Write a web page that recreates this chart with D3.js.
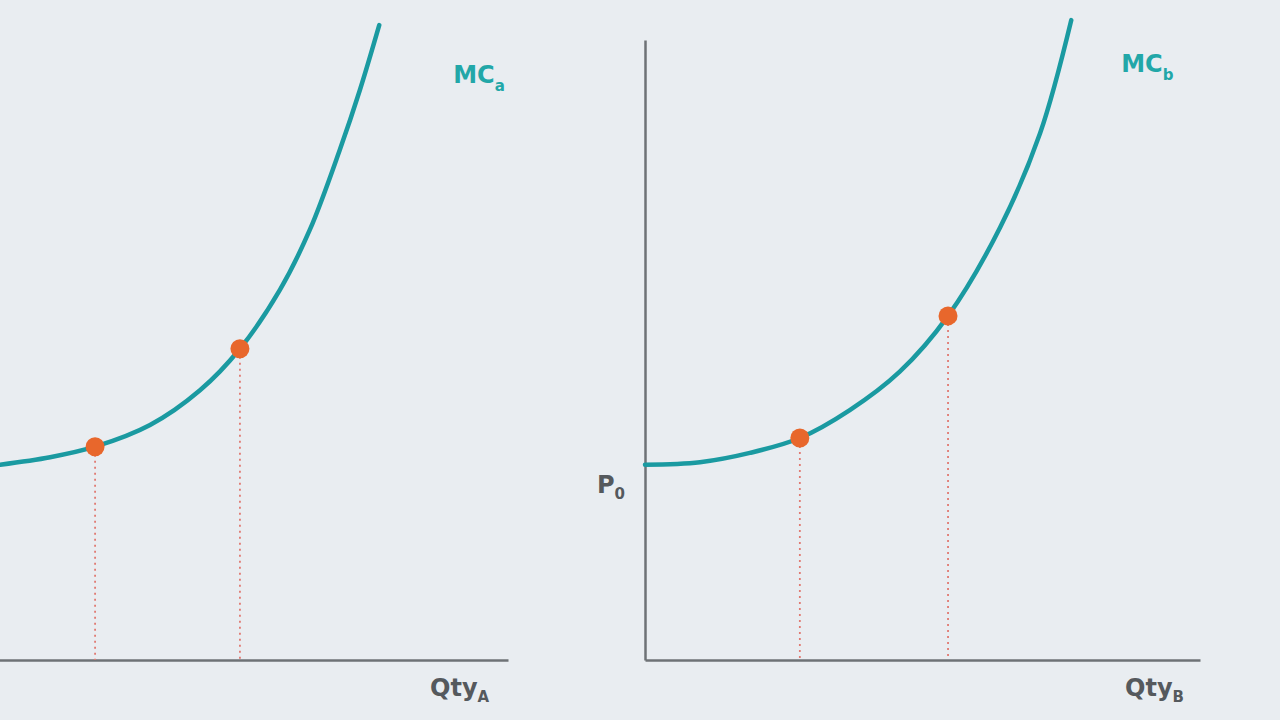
<!DOCTYPE html>
<html>
<head>
<meta charset="utf-8">
<script src="https://cdn.jsdelivr.net/npm/d3@7"></script>
<style>
  html, body { margin: 0; padding: 0; background: #e9edf1; }
  svg { display: block; }
  .axis path { stroke: #6e7276; stroke-width: 2.5; }
  .lbl { font-family: "DejaVu Sans", sans-serif; font-weight: bold; }
</style>
</head>
<body>
<div id="chart"></div>
<script>
// curve samples, quantity (x) vs cost (y), one array per panel
const leftQty  = [0.85, 1.75, 2.56, 3.55, 4.45, 5.17, 5.89, 6.43, 6.97, 7.33, 7.68];
const leftCost = [3.15, 3.27, 3.44, 3.79, 4.35, 5.02, 5.97, 6.94, 8.23, 9.19, 10.24];
const rightQty  = [0.00, 0.99, 1.89, 2.79, 3.69, 4.59, 5.46, 6.40, 7.12, 7.68];
const rightCost = [3.15, 3.19, 3.34, 3.58, 4.03, 4.65, 5.55, 6.98, 8.50, 10.32];

// highlighted points (index into the curve arrays)
const leftMarks  = [2, 5];
const rightMarks = [3, 6];

const curveLabels = ["MC", "MC"];
const curveSubs   = ["a", "b"];
const xLabels     = ["Qty", "Qty"];
const xSubs       = ["A", "B"];
const yLabel      = "P";
const ySub        = "0";

const W = 1280, H = 720;
const svg = d3.select('#chart').append('svg')
  .attr('width', W).attr('height', H);

const x = d3.scaleLinear().domain([0, 10]).range([0, 555]);
const y = d3.scaleLinear().domain([0, 10]).range([620, 0]);

const panels = [
  { dx: -47, dy: 40, qty: leftQty, cost: leftCost, marks: leftMarks, i: 0, lx: 74, ly: 58 },
  { dx: 645, dy: 40, qty: rightQty, cost: rightCost, marks: rightMarks, i: 1, lx: 50, ly: 52 }
];

const line = d3.line()
  .x(d => x(d[0]))
  .y(d => y(d[1]))
  .curve(d3.curveCatmullRom.alpha(0.5));

panels.forEach(p => {
  const g = svg.append('g').attr('transform', `translate(${p.dx},${p.dy})`);
  const pts = p.qty.map((q, k) => [q, p.cost[k]]);

  g.append('g').attr('class', 'axis')
    .attr('transform', `translate(0,${y(0)})`)
    .call(d3.axisBottom(x).tickValues([]).tickSizeOuter(0));
  g.append('g').attr('class', 'axis')
    .call(d3.axisLeft(y).tickValues([]).tickSizeOuter(0));

  // dotted drop lines
  g.selectAll('.drop')
    .data(p.marks.map(k => pts[k]))
    .enter().append('line')
    .attr('x1', d => x(d[0])).attr('x2', d => x(d[0]))
    .attr('y1', d => y(d[1]) + 8).attr('y2', y(0))
    .style('stroke', '#e07a72')
    .style('stroke-width', 1.8)
    .style('stroke-dasharray', '2,4');

  g.append('path')
    .datum(pts)
    .attr('d', line)
    .style('fill', 'none')
    .style('stroke', '#1a9aa1')
    .style('stroke-width', 4.5)
    .style('stroke-linecap', 'round');

  g.selectAll('.dot')
    .data(p.marks.map(k => pts[k]))
    .enter().append('circle')
    .attr('cx', d => x(d[0])).attr('cy', d => y(d[1]))
    .attr('r', 9.5)
    .style('fill', '#e8672c');

  // curve label
  const last = pts[pts.length - 1];
  const cl = g.append('text').attr('class', 'lbl')
    .attr('x', x(last[0]) + p.lx)
    .attr('y', y(last[1]) + p.ly)
    .style('fill', '#22a7a8')
    .style('font-size', '24px');
  cl.append('tspan').text(curveLabels[p.i]);
  cl.append('tspan').attr('dy', 8).style('font-size', '15px').text(curveSubs[p.i]);

  // x-axis label
  const xl = g.append('text').attr('class', 'lbl')
    .attr('x', x(10) - (p.i === 0 ? 78 : 75))
    .attr('y', y(0) + 36)
    .style('fill', '#55595d')
    .style('font-size', '24px');
  xl.append('tspan').text(xLabels[p.i]);
  xl.append('tspan').attr('dy', 6).style('font-size', '15px').text(xSubs[p.i]);

  if (p.i === 1) {
    const yl = g.append('text').attr('class', 'lbl')
      .attr('x', -48)
      .attr('y', y(p.cost[0]) + 28)
      .style('fill', '#55595d')
      .style('font-size', '24px');
    yl.append('tspan').text(yLabel);
    yl.append('tspan').attr('dy', 6).style('font-size', '15px').text(ySub);
  }
});
</script>
</body>
</html>
